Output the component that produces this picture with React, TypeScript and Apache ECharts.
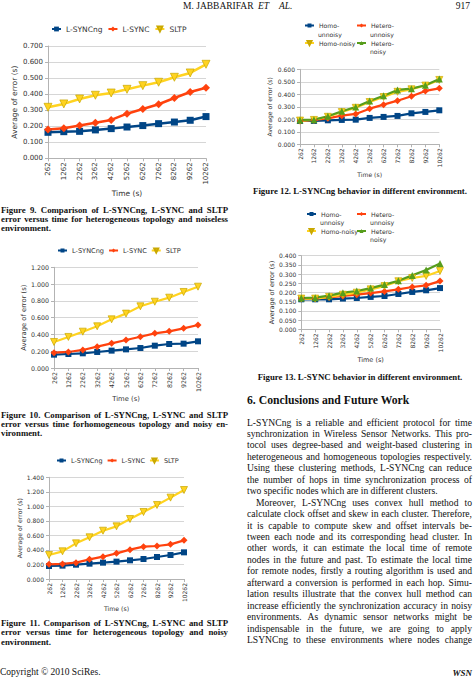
import React, { useEffect, useRef } from 'react';
import * as echarts from 'echarts';

// ---------- data ----------
const CATS = ['262', '1262', '2262', '3262', '4262', '5262', '6262', '7262', '8262', '9262', '10262'];

// Figure 9
const F9_LSYNCNG = [0.162, 0.166, 0.168, 0.177, 0.185, 0.195, 0.204, 0.216, 0.226, 0.237, 0.26];
const F9_LSYNC = [0.179, 0.187, 0.204, 0.222, 0.239, 0.278, 0.307, 0.337, 0.376, 0.413, 0.44];
const F9_SLTP = [0.318, 0.339, 0.37, 0.393, 0.407, 0.43, 0.453, 0.474, 0.505, 0.532, 0.586];
// Figure 10
const F10_LSYNCNG = [0.159, 0.167, 0.175, 0.191, 0.207, 0.222, 0.238, 0.266, 0.286, 0.29, 0.318];
const F10_LSYNC = [0.183, 0.191, 0.215, 0.254, 0.294, 0.334, 0.373, 0.413, 0.437, 0.473, 0.513];
const F10_SLTP = [0.31, 0.37, 0.433, 0.497, 0.58, 0.648, 0.735, 0.79, 0.838, 0.906, 0.969];
// Figure 11
const F11_LSYNCNG = [0.179, 0.184, 0.197, 0.211, 0.225, 0.239, 0.257, 0.275, 0.303, 0.33, 0.367];
const F11_LSYNC = [0.202, 0.207, 0.225, 0.271, 0.307, 0.353, 0.404, 0.445, 0.454, 0.477, 0.532];
const F11_SLTP = [0.33, 0.381, 0.491, 0.574, 0.665, 0.725, 0.826, 0.922, 1.019, 1.12, 1.225];
// Figure 12
const F12_HOMO_UNNOISY = [0.187, 0.187, 0.192, 0.195, 0.197, 0.211, 0.219, 0.227, 0.248, 0.259, 0.272];
const F12_HETERO_UNNOISY = [0.187, 0.195, 0.208, 0.229, 0.243, 0.285, 0.317, 0.349, 0.384, 0.427, 0.448];
const F12_HOMO_NOISY = [0.19, 0.195, 0.22, 0.258, 0.292, 0.338, 0.378, 0.42, 0.44, 0.47, 0.515];
const F12_HETERO_NOISY = [0.195, 0.197, 0.224, 0.264, 0.299, 0.347, 0.389, 0.435, 0.445, 0.472, 0.523];
// Figure 13
const F13_HOMO_UNNOISY = [0.163, 0.163, 0.163, 0.167, 0.17, 0.176, 0.181, 0.192, 0.203, 0.212, 0.224];
const F13_HETERO_UNNOISY = [0.167, 0.168, 0.174, 0.181, 0.188, 0.197, 0.206, 0.217, 0.23, 0.239, 0.262];
const F13_HOMO_NOISY = [0.167, 0.167, 0.176, 0.188, 0.199, 0.217, 0.235, 0.261, 0.279, 0.29, 0.317];
const F13_HETERO_NOISY = [0.17, 0.172, 0.183, 0.199, 0.208, 0.224, 0.243, 0.264, 0.293, 0.322, 0.358];

// ---------- texts ----------
const CAP9 = [
  'Figure 9. Comparison of L-SYNCng, L-SYNC and SLTP',
  'error versus time for heterogeneous topology and noiseless',
  'environment.',
];
const CAP10 = [
  'Figure 10. Comparison of L-SYNCng, L-SYNC and SLTP',
  'error versus time forhomogeneous topology and noisy en-',
  'vironment.',
];
const CAP11 = [
  'Figure 11. Comparison of L-SYNCng, L-SYNC and SLTP',
  'error versus time for heterogeneous topology and noisy',
  'environment.',
];
const CAP12 = 'Figure 12. L-SYNCng behavior in different environment.';
const CAP13 = 'Figure 13. L-SYNC behavior in different environment.';
const HEADING = '6. Conclusions and Future Work';
// [text, indent, lastLineOfParagraph]
const BODY: [string, boolean, boolean][] = [
  ['L-SYNCng is a reliable and efficient protocol for time', false, false],
  ['synchronization in Wireless Sensor Networks. This pro-', false, false],
  ['tocol uses degree-based and weight-based clustering in', false, false],
  ['heterogeneous and homogeneous topologies respectively.', false, false],
  ['Using these clustering methods, L-SYNCng can reduce', false, false],
  ['the number of hops in time synchronization process of', false, false],
  ['two specific nodes which are in different clusters.', false, true],
  ['Moreover, L-SYNCng uses convex hull method to', true, false],
  ['calculate clock offset and skew in each cluster. Therefore,', false, false],
  ['it is capable to compute skew and offset intervals be-', false, false],
  ['tween each node and its corresponding head cluster. In', false, false],
  ['other words, it can estimate the local time of remote', false, false],
  ['nodes in the future and past. To estimate the local time', false, false],
  ['for remote nodes, firstly a routing algorithm is used and', false, false],
  ['afterward a conversion is performed in each hop. Simu-', false, false],
  ['lation results illustrate that the convex hull method can', false, false],
  ['increase efficiently the synchronization accuracy in noisy', false, false],
  ['environments. As dynamic sensor networks might be', false, false],
  ['indispensable in the future, we are going to apply', false, false],
  ['LSYNCng to these environments where nodes change', false, false],
];

const BLUE = '#004586';
const RED = '#ff420e';
const YELLOW = '#ffd320';
const GREEN = '#579d1c';
const SANS = 'DejaVu Sans';
const SERIF = 'Liberation Serif';

let ctx: CanvasRenderingContext2D | null = null;
function measure(text: string, font: string): number {
  if (!ctx) ctx = document.createElement('canvas').getContext('2d');
  ctx!.font = font;
  return ctx!.measureText(text).width;
}

type TOpts = { size: number; weight?: string; italic?: boolean; color?: string; align?: string; family?: string };
function txt(text: string, x: number, y: number, o: TOpts) {
  return {
    type: 'text',
    x,
    y,
    silent: true,
    style: {
      text,
      fontSize: o.size,
      fontFamily: o.family || SERIF,
      fontWeight: o.weight || 'normal',
      fontStyle: o.italic ? 'italic' : 'normal',
      fill: o.color || '#111',
      align: o.align || 'left',
      verticalAlign: 'middle',
    },
  };
}
function justified(text: string, x: number, y: number, width: number, o: TOpts) {
  const font = `${o.italic ? 'italic' : 'normal'} ${o.weight || 'normal'} ${o.size}px "${SERIF}"`;
  const words = text.split(' ');
  const ws = words.map((w) => measure(w, font));
  const total = ws.reduce((a, b) => a + b, 0);
  const gap = words.length > 1 ? (width - total) / (words.length - 1) : 0;
  const out: any[] = [];
  let cx = x;
  words.forEach((w, i) => {
    out.push(txt(w, cx, y, o));
    cx += ws[i] + gap;
  });
  return out;
}

function buildGraphics() {
  const g: any[] = [];
  // header
  g.push(txt('M. JABBARIFAR', 183, 6, { size: 9.5 }));
  g.push(txt('ET', 258, 6, { size: 9.5, italic: true }));
  g.push(txt('AL.', 279, 6, { size: 9.5, italic: true }));
  g.push(txt('917', 470, 6, { size: 9.5, align: 'right' }));
  // left captions
  const capO = { size: 8.8, weight: 'bold' };
  const leftCap = (lines: string[], y0: number) => {
    lines.forEach((l, i) => {
      const y = y0 + i * 9.4;
      if (i < lines.length - 1) g.push(...justified(l, 1, y, 227, capO));
      else g.push(txt(l, 1, y, capO));
    });
  };
  leftCap(CAP9, 209.5);
  leftCap(CAP10, 414.5);
  leftCap(CAP11, 623);
  // right captions
  g.push(txt(CAP12, 360, 191, { ...capO, align: 'center' }));
  g.push(txt(CAP13, 360, 377, { ...capO, align: 'center' }));
  // heading
  g.push(txt(HEADING, 247, 400, { size: 11.7, weight: 'bold' }));
  // body
  const bodyO = { size: 9.6 };
  BODY.forEach(([l, indent, last], i) => {
    const y = 422 + i * 11.45;
    const x = indent ? 256 : 247;
    if (last) g.push(txt(l, x, y, bodyO));
    else g.push(...justified(l, x, y, 472 - x, bodyO));
  });
  // footer
  g.push(txt('Copyright \u00a9 2010 SciRes.', 0, 672, { size: 9.5 }));
  g.push(txt('WSN', 472, 673, { size: 9, weight: 'bold', italic: true, align: 'right' }));
  // second lines of the two-line legend labels
  const sans = (t: string, x: number, y: number, size: number) =>
    txt(t, x, y, { size, color: '#333', family: SANS });
  g.push(sans('unnoisy', 318, 34, 6.1));
  g.push(sans('unnoisy', 370, 34, 6.1));
  g.push(sans('noisy', 370, 51, 6.1));
  g.push(sans('unnoisy', 320, 222.5, 6.2));
  g.push(sans('unnoisy', 370, 222.5, 6.2));
  g.push(sans('noisy', 370, 239, 6.2));
  return g;
}

type Kind = 'sq' | 'dia' | 'tri' | 'itri';
function ser(name: string, data: number[], gi: number, kind: Kind, color: string, lw: number, sz: number) {
  const symbol = kind === 'sq' ? 'rect' : kind === 'dia' ? 'diamond' : 'triangle';
  const size = kind === 'sq' ? sz : kind === 'dia' ? sz + 1 : sz + 1;
  return {
    type: 'line',
    name,
    xAxisIndex: gi,
    yAxisIndex: gi,
    data,
    symbol,
    symbolSize: size,
    symbolRotate: kind === 'itri' ? 180 : 0,
    showAllSymbol: true,
    lineStyle: { width: lw, color },
    itemStyle: {
      color,
      borderColor: color === YELLOW ? '#c9a800' : color,
      borderWidth: color === YELLOW ? 0.7 : 0,
    },
  };
}

function xAx(gi: number, fs: number, nameFs: number, nameGap: number) {
  return {
    type: 'category',
    gridIndex: gi,
    data: CATS,
    boundaryGap: false,
    name: 'Time (s)',
    nameLocation: 'middle',
    nameGap,
    nameTextStyle: { fontSize: nameFs, color: '#333', fontFamily: SANS },
    axisLine: { show: true, lineStyle: { color: '#b3b3b3', width: 1 } },
    axisTick: { show: true, length: 3, interval: 0, lineStyle: { color: '#b3b3b3' } },
    axisLabel: { rotate: 90, interval: 0, fontSize: fs, color: '#333', fontFamily: SANS, margin: 4 },
    splitLine: { show: false },
  };
}
function yAx(gi: number, max: number, interval: number, fs: number, nameFs: number, nameGap: number) {
  return {
    type: 'value',
    gridIndex: gi,
    min: 0,
    max,
    interval,
    name: 'Average of error (s)',
    nameLocation: 'middle',
    nameGap,
    nameTextStyle: { fontSize: nameFs, color: '#333', fontFamily: SANS },
    axisLine: { show: true, lineStyle: { color: '#b3b3b3', width: 1 } },
    axisTick: { show: true, length: 3, lineStyle: { color: '#b3b3b3' } },
    axisLabel: { fontSize: fs, color: '#333', fontFamily: SANS, margin: 5, formatter: (v: number) => v.toFixed(3) },
    splitLine: { show: true, lineStyle: { color: '#c4c4c4', width: 0.7 } },
  };
}
function leg(data: string[], left: number, top: number, fs: number, gap: number, ih: number, labels?: Record<string, string>) {
  return {
    left,
    top,
    padding: 0,
    itemGap: gap,
    itemWidth: 9,
    itemHeight: ih,
    selectedMode: false,
    data,
    formatter: labels ? (n: string) => labels[n] || n : undefined,
    textStyle: { fontSize: fs, color: '#333', fontFamily: SANS },
  };
}

function buildOption() {
  const env = { 'Homo-unnoisy': 'Homo-', 'Hetero-unnoisy': 'Hetero-', 'Homo-noisy': 'Homo-noisy', 'Hetero-noisy': 'Hetero-' };
  return {
    animation: false,
    backgroundColor: '#ffffff',
    grid: [
      { left: 48, top: 46, width: 158, height: 112.3 },
      { left: 54, top: 267.3, width: 144, height: 100.7 },
      { left: 49, top: 477.3, width: 135, height: 101.7 },
      { left: 300, top: 69.3, width: 139.3, height: 75 },
      { left: 301.3, top: 255.7, width: 138.7, height: 73.6 },
    ],
    xAxis: [xAx(0, 7, 7.5, 31), xAx(1, 6.3, 6.8, 27), xAx(2, 6, 6.2, 24), xAx(3, 6, 6.1, 27), xAx(4, 6, 6.5, 27.5)],
    yAxis: [
      yAx(0, 0.7, 0.1, 7, 7.5, 30),
      yAx(1, 1.2, 0.2, 6.3, 6.8, 26),
      yAx(2, 1.4, 0.2, 6, 6.2, 26),
      yAx(3, 0.6, 0.1, 6, 6.1, 28),
      yAx(4, 0.4, 0.05, 6, 6.5, 26),
    ],
    legend: [
      leg(['L-SYNCng', 'L-SYNC', 'SLTP'], 51, 25, 7.5, 5, 6),
      leg(['L-SYNCng', 'L-SYNC', 'SLTP'], 57, 247, 6.6, 4, 5),
      leg(['L-SYNCng', 'L-SYNC', 'SLTP'], 56, 457, 6.5, 4, 5),
      leg(['Homo-unnoisy'], 304, 22.5, 6.1, 4, 5, env),
      leg(['Hetero-unnoisy'], 356, 22.5, 6.1, 4, 5, env),
      leg(['Homo-noisy'], 304, 40, 6.1, 4, 5, env),
      leg(['Hetero-noisy'], 356, 40, 6.1, 4, 5, env),
      leg(['Homo-unnoisy'], 306, 211, 6.2, 4, 5, env),
      leg(['Hetero-unnoisy'], 356, 211, 6.2, 4, 5, env),
      leg(['Homo-noisy'], 306, 228, 6.2, 4, 5, env),
      leg(['Hetero-noisy'], 356, 228, 6.2, 4, 5, env),
    ],
    series: [
      ser('L-SYNCng', F9_LSYNCNG, 0, 'sq', BLUE, 2.5, 7),
      ser('L-SYNC', F9_LSYNC, 0, 'dia', RED, 2.5, 7),
      ser('SLTP', F9_SLTP, 0, 'itri', YELLOW, 2.5, 7),
      ser('L-SYNCng', F10_LSYNCNG, 1, 'sq', BLUE, 2.2, 6),
      ser('L-SYNC', F10_LSYNC, 1, 'dia', RED, 2.2, 6),
      ser('SLTP', F10_SLTP, 1, 'itri', YELLOW, 2.2, 6),
      ser('L-SYNCng', F11_LSYNCNG, 2, 'sq', BLUE, 2.2, 6),
      ser('L-SYNC', F11_LSYNC, 2, 'dia', RED, 2.2, 6),
      ser('SLTP', F11_SLTP, 2, 'itri', YELLOW, 2.2, 6),
      ser('Homo-unnoisy', F12_HOMO_UNNOISY, 3, 'sq', BLUE, 2.2, 6),
      ser('Hetero-unnoisy', F12_HETERO_UNNOISY, 3, 'dia', RED, 2.2, 6),
      ser('Homo-noisy', F12_HOMO_NOISY, 3, 'itri', YELLOW, 2.2, 6),
      ser('Hetero-noisy', F12_HETERO_NOISY, 3, 'tri', GREEN, 2.2, 6),
      ser('Homo-unnoisy', F13_HOMO_UNNOISY, 4, 'sq', BLUE, 2.2, 6),
      ser('Hetero-unnoisy', F13_HETERO_UNNOISY, 4, 'dia', RED, 2.2, 6),
      ser('Homo-noisy', F13_HOMO_NOISY, 4, 'itri', YELLOW, 2.2, 6),
      ser('Hetero-noisy', F13_HETERO_NOISY, 4, 'tri', GREEN, 2.2, 6),
    ],
    graphic: buildGraphics(),
  };
}

export default function App() {
  const ref = useRef<HTMLDivElement>(null);
  useEffect(() => {
    const chart = echarts.init(ref.current!, null, { renderer: 'svg', width: 474, height: 677 });
    chart.setOption(buildOption() as any);
    return () => chart.dispose();
  }, []);
  return (
    <div
      ref={ref}
      style={{ position: 'absolute', left: 0, top: 0, width: 474, height: 677, background: '#fff' }}
    />
  );
}
